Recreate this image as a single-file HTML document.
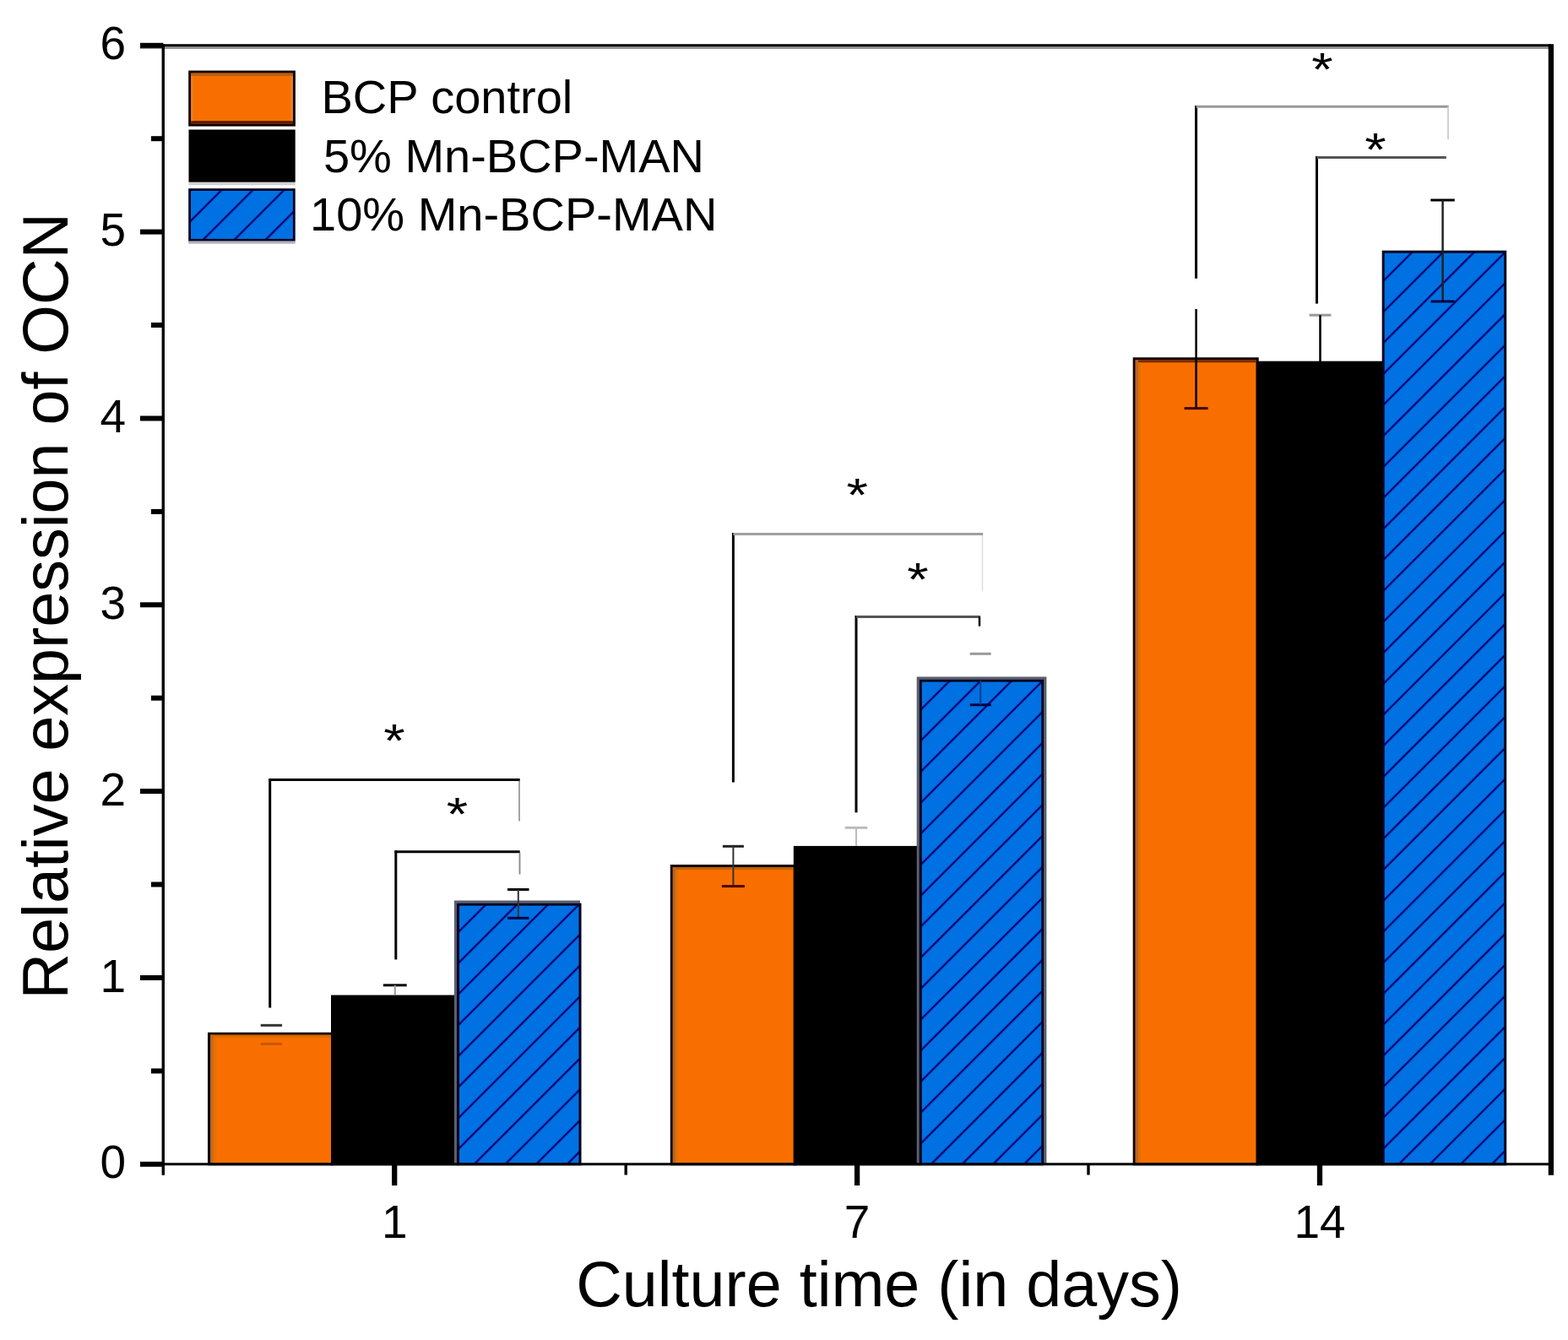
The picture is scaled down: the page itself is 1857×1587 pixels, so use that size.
<!DOCTYPE html><html><head><meta charset="utf-8"><style>html,body{margin:0;padding:0;background:#fff}svg{display:block}text{font-family:"Liberation Sans",Arial,sans-serif;fill:#000}</style></head><body>
<svg width="1857" height="1587" viewBox="0 0 1857 1587">
<rect width="1857" height="1587" fill="#fff"/>
<defs>
<pattern id="hb0" patternUnits="userSpaceOnUse" width="25.951" height="25.951" patternTransform="translate(32.00,0) rotate(45)"><rect width="25.951" height="25.951" fill="#0071e2"/><rect x="-1.15" y="0" width="2.3" height="25.951" fill="#000070"/><rect x="24.801" y="0" width="2.3" height="25.951" fill="#000070"/></pattern>
<pattern id="hb1" patternUnits="userSpaceOnUse" width="25.951" height="25.951" patternTransform="translate(22.60,0) rotate(45)"><rect width="25.951" height="25.951" fill="#0071e2"/><rect x="-1.15" y="0" width="2.3" height="25.951" fill="#000070"/><rect x="24.801" y="0" width="2.3" height="25.951" fill="#000070"/></pattern>
<pattern id="hb2" patternUnits="userSpaceOnUse" width="25.951" height="25.951" patternTransform="translate(26.00,0) rotate(45)"><rect width="25.951" height="25.951" fill="#0071e2"/><rect x="-1.15" y="0" width="2.3" height="25.951" fill="#000070"/><rect x="24.801" y="0" width="2.3" height="25.951" fill="#000070"/></pattern>
<pattern id="hl" patternUnits="userSpaceOnUse" width="26.163" height="26.163" patternTransform="translate(6.50,0) rotate(45)"><rect width="26.163" height="26.163" fill="#0071e2"/><rect x="-1.15" y="0" width="2.3" height="26.163" fill="#000070"/><rect x="25.013" y="0" width="2.3" height="26.163" fill="#000070"/></pattern>
</defs>
<rect x="247.5" y="1224.2" width="146.0" height="154.6" fill="#f86f00" stroke="#100000" stroke-width="3"/>
<rect x="249.0" y="1225.7" width="143.0" height="3" fill="#d86a00"/>
<rect x="249.0" y="1225.7" width="3.2" height="151.6" fill="#b8652a"/>
<rect x="252.2" y="1228.7" width="3" height="148.6" fill="#e27000"/>
<rect x="393.5" y="1180.0" width="147.5" height="198.8" fill="#000" stroke="#000" stroke-width="3"/>
<path d="M539.5,1378.8 V1068.1 H687.0" fill="none" stroke="#5a5f6e" stroke-width="3.2"/>
<rect x="542.5" y="1071.1" width="144.5" height="307.7" fill="url(#hb0)" stroke="#000020" stroke-width="3"/>
<rect x="795.3" y="1025.5" width="146.0" height="353.3" fill="#f86f00" stroke="#100000" stroke-width="3"/>
<rect x="796.8" y="1027.0" width="143.0" height="3" fill="#c06000"/>
<rect x="796.8" y="1027.0" width="3.2" height="350.3" fill="#b8652a"/>
<rect x="800.0" y="1030.0" width="3" height="347.3" fill="#e27000"/>
<rect x="941.3" y="1003.4" width="147.5" height="375.4" fill="#000" stroke="#000" stroke-width="3"/>
<path d="M1087.3,1378.8 V803.1 H1237.8 V1378.8" fill="none" stroke="#5a5f6e" stroke-width="3.2"/>
<rect x="1090.3" y="806.1" width="144.5" height="572.7" fill="url(#hb1)" stroke="#000020" stroke-width="3"/>
<rect x="1343.2" y="424.8" width="146.0" height="954.0" fill="#f86f00" stroke="#100000" stroke-width="3"/>
<rect x="1344.7" y="426.3" width="143.0" height="3" fill="#7a2c00"/>
<rect x="1344.7" y="426.3" width="3.2" height="951.0" fill="#b8652a"/>
<rect x="1347.9" y="429.3" width="3" height="948.0" fill="#e27000"/>
<rect x="1489.2" y="429.2" width="147.5" height="949.6" fill="#000" stroke="#000" stroke-width="3"/>
<rect x="1638.2" y="298.2" width="144.5" height="1080.6" fill="url(#hb2)" stroke="#000020" stroke-width="3"/>
<line x1="166" y1="56.7" x2="1834" y2="56.7" stroke="#959595" stroke-width="2.7"/>
<g stroke="#000" fill="none">
<line x1="193.3" y1="53.8" x2="1836.9" y2="53.8" stroke-width="3"/>
<line x1="191.8" y1="1378.8" x2="1836.9" y2="1378.8" stroke-width="3"/>
<line x1="193.3" y1="52.3" x2="193.3" y2="1391.8" stroke-width="3.4"/>
<line x1="1836.9" y1="52.3" x2="1836.9" y2="1391.8" stroke-width="6.3"/>
<line x1="166" y1="1378.8" x2="193.3" y2="1378.8" stroke-width="6"/>
<line x1="179" y1="1268.4" x2="193.3" y2="1268.4" stroke-width="6"/>
<line x1="166" y1="1158.0" x2="193.3" y2="1158.0" stroke-width="6"/>
<line x1="179" y1="1047.5" x2="193.3" y2="1047.5" stroke-width="6"/>
<line x1="166" y1="937.1" x2="193.3" y2="937.1" stroke-width="6"/>
<line x1="179" y1="826.7" x2="193.3" y2="826.7" stroke-width="6"/>
<line x1="166" y1="716.3" x2="193.3" y2="716.3" stroke-width="6"/>
<line x1="179" y1="605.9" x2="193.3" y2="605.9" stroke-width="6"/>
<line x1="166" y1="495.5" x2="193.3" y2="495.5" stroke-width="6"/>
<line x1="179" y1="385.0" x2="193.3" y2="385.0" stroke-width="6"/>
<line x1="166" y1="274.6" x2="193.3" y2="274.6" stroke-width="6"/>
<line x1="179" y1="164.2" x2="193.3" y2="164.2" stroke-width="6"/>
<line x1="166" y1="53.8" x2="193.3" y2="53.8" stroke-width="6"/>
<line x1="467.2" y1="1378.8" x2="467.2" y2="1404" stroke-width="6.3"/>
<line x1="1015.1" y1="1378.8" x2="1015.1" y2="1404" stroke-width="6.3"/>
<line x1="1563.0" y1="1378.8" x2="1563.0" y2="1404" stroke-width="6.3"/>
<line x1="741.2" y1="1378.8" x2="741.2" y2="1391.5" stroke-width="3.4"/>
<line x1="1289.0" y1="1378.8" x2="1289.0" y2="1391.5" stroke-width="3.4"/>
</g>
<text x="149" y="1395.4" font-size="55" text-anchor="end">0</text>
<text x="149" y="1174.6" font-size="55" text-anchor="end">1</text>
<text x="149" y="953.7" font-size="55" text-anchor="end">2</text>
<text x="149" y="732.9" font-size="55" text-anchor="end">3</text>
<text x="149" y="512.1" font-size="55" text-anchor="end">4</text>
<text x="149" y="291.2" font-size="55" text-anchor="end">5</text>
<text x="149" y="70.4" font-size="55" text-anchor="end">6</text>
<text x="467.2" y="1465.8" font-size="55" text-anchor="middle">1</text>
<text x="1015.1" y="1465.8" font-size="55" text-anchor="middle">7</text>
<text x="1563.0" y="1465.8" font-size="55" text-anchor="middle">14</text>
<text x="682.3" y="1547" font-size="75.5">Culture time (in days)</text>
<text transform="translate(80,1183.4) rotate(-90)" font-size="75.5">Relative expression of OCN</text>
<rect x="224.7" y="85.1" width="123.7" height="63" fill="#f86f00" stroke="#100000" stroke-width="3"/>
<rect x="226.2" y="86.6" width="120.7" height="3.4" fill="#b86010"/>
<rect x="226.2" y="143.2" width="120.7" height="3.4" fill="#561a00"/>
<rect x="226.2" y="90" width="2.5" height="53.2" fill="#e88024"/>
<rect x="344.4" y="90" width="2.5" height="53.2" fill="#e88024"/>
<rect x="225" y="155" width="123.2" height="59.2" fill="#000" stroke="#000" stroke-width="3"/>
<rect x="224.6" y="224.6" width="123.7" height="59.7" fill="url(#hl)" stroke="#000020" stroke-width="2.8"/>
<rect x="223.5" y="216.2" width="126.2" height="3" fill="#cfcfcf"/>
<rect x="223.2" y="285.7" width="126.5" height="3" fill="#b4b4bc"/>
<text x="380.5" y="134.1" font-size="56">BCP control</text>
<text x="382.9" y="203.5" font-size="56">5% Mn-BCP-MAN</text>
<text x="367" y="273" font-size="56">10% Mn-BCP-MAN</text>
<line x1="308.7" y1="1214.3" x2="334.1" y2="1214.3" stroke="#333" stroke-width="3"/>
<line x1="308.7" y1="1236.4" x2="334.1" y2="1236.4" stroke="#c85800" stroke-width="3"/>
<line x1="453.9" y1="1166.8" x2="481.7" y2="1166.8" stroke="#000" stroke-width="3"/>
<line x1="467.8" y1="1166.8" x2="467.8" y2="1178.0" stroke="#999" stroke-width="2"/>
<line x1="601.0" y1="1053.5" x2="626.5" y2="1053.5" stroke="#000" stroke-width="3"/>
<line x1="613.8" y1="1053.5" x2="613.8" y2="1087.3" stroke="#333" stroke-width="2"/>
<line x1="601.0" y1="1087.3" x2="626.5" y2="1087.3" stroke="#000040" stroke-width="3"/>
<line x1="855.9" y1="1002.3" x2="880.9" y2="1002.3" stroke="#222" stroke-width="3"/>
<line x1="868.4" y1="1002.3" x2="868.4" y2="1049.6" stroke="#333" stroke-width="2"/>
<line x1="854.9" y1="1049.6" x2="881.9" y2="1049.6" stroke="#500000" stroke-width="3"/>
<line x1="1000.7" y1="980.3" x2="1027.3" y2="980.3" stroke="#bbb" stroke-width="3"/>
<line x1="1014.0" y1="980.3" x2="1014.0" y2="1002.0" stroke="#bbb" stroke-width="2"/>
<line x1="1148.7" y1="774.3" x2="1173.7" y2="774.3" stroke="#999" stroke-width="3"/>
<line x1="1148.7" y1="834.8" x2="1173.7" y2="834.8" stroke="#000040" stroke-width="3"/>
<line x1="1161.2" y1="806.0" x2="1161.2" y2="834.8" stroke="#004090" stroke-width="2"/>
<line x1="1416.6" y1="366.0" x2="1416.6" y2="483.6" stroke="#000" stroke-width="2.5"/>
<line x1="1402.6" y1="483.6" x2="1430.6" y2="483.6" stroke="#400000" stroke-width="3"/>
<line x1="1550.6" y1="373.2" x2="1576.4" y2="373.2" stroke="#999" stroke-width="3"/>
<line x1="1563.5" y1="373.2" x2="1563.5" y2="429.0" stroke="#000" stroke-width="2.5"/>
<line x1="1694.3" y1="237.0" x2="1722.8" y2="237.0" stroke="#000" stroke-width="3"/>
<line x1="1708.6" y1="237.0" x2="1708.6" y2="357.0" stroke="#222" stroke-width="2.5"/>
<line x1="1694.6" y1="357.0" x2="1722.6" y2="357.0" stroke="#000040" stroke-width="3"/>
<line x1="319.7" y1="1193.5" x2="319.7" y2="922.0" stroke="#000" stroke-width="3"/>
<line x1="318.2" y1="923.5" x2="615.7" y2="923.5" stroke="#000" stroke-width="3"/>
<line x1="615.0" y1="925.0" x2="615.0" y2="972.5" stroke="#999" stroke-width="1.8"/>
<line x1="468.8" y1="1136.4" x2="468.8" y2="1007.3" stroke="#000" stroke-width="3"/>
<line x1="467.3" y1="1008.8" x2="615.7" y2="1008.8" stroke="#000" stroke-width="3"/>
<line x1="615.5" y1="1010.0" x2="615.5" y2="1035.5" stroke="#888" stroke-width="1.8"/>
<line x1="868.4" y1="926.6" x2="868.4" y2="631.0" stroke="#000" stroke-width="3"/>
<line x1="868.4" y1="632.5" x2="1164.2" y2="632.5" stroke="#a0a0a0" stroke-width="3"/>
<line x1="1163.5" y1="634.0" x2="1163.5" y2="700.0" stroke="#ddd" stroke-width="1.5"/>
<line x1="1014.0" y1="962.3" x2="1014.0" y2="729.0" stroke="#000" stroke-width="3"/>
<line x1="1014.0" y1="730.5" x2="1161.0" y2="730.5" stroke="#555" stroke-width="3"/>
<line x1="1160.0" y1="730.5" x2="1160.0" y2="741.6" stroke="#000" stroke-width="2.5"/>
<line x1="1416.6" y1="329.8" x2="1416.6" y2="125.0" stroke="#000" stroke-width="3"/>
<line x1="1416.6" y1="126.3" x2="1715.7" y2="126.3" stroke="#999" stroke-width="3"/>
<line x1="1715.0" y1="126.3" x2="1715.0" y2="165.0" stroke="#ccc" stroke-width="1.8"/>
<line x1="1559.5" y1="359.6" x2="1559.5" y2="185.0" stroke="#000" stroke-width="3"/>
<line x1="1559.5" y1="186.4" x2="1712.8" y2="186.4" stroke="#555" stroke-width="3"/>
<text x="467.0" y="900.8" font-size="64" text-anchor="middle" transform="translate(467.0,868.0) scale(1.02,0.86) translate(-467.0,-868.0)">*</text>
<text x="541.5" y="987.8" font-size="64" text-anchor="middle" transform="translate(541.5,955.0) scale(1.02,0.86) translate(-541.5,-955.0)">*</text>
<text x="1015.3" y="609.8" font-size="64" text-anchor="middle" transform="translate(1015.3,577.0) scale(1.02,0.86) translate(-1015.3,-577.0)">*</text>
<text x="1087.0" y="709.8" font-size="64" text-anchor="middle" transform="translate(1087.0,677.0) scale(1.02,0.86) translate(-1087.0,-677.0)">*</text>
<text x="1566.0" y="105.3" font-size="64" text-anchor="middle" transform="translate(1566.0,72.5) scale(1.02,0.86) translate(-1566.0,-72.5)">*</text>
<text x="1629.0" y="200.3" font-size="64" text-anchor="middle" transform="translate(1629.0,167.5) scale(1.02,0.86) translate(-1629.0,-167.5)">*</text>
</svg></body></html>
